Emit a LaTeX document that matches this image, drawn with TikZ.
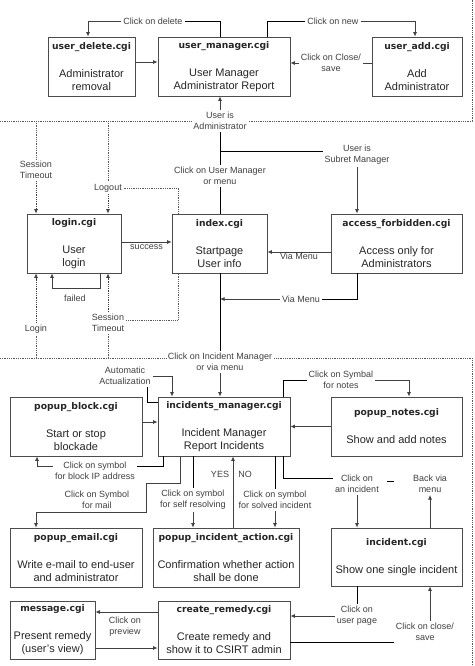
\documentclass[tikz,border=0pt]{standalone}
\usepackage{fontspec}
\setmainfont{Liberation Sans}
\newfontfamily\cgifont{DejaVu Sans}
\usetikzlibrary{positioning,arrows.meta}

\newcommand{\cgitext}[2]{{\cgifont\bfseries\fontsize{9.2}{11}\selectfont #1}\\[15pt]#2}

\begin{document}
\begin{tikzpicture}[
        x=1pt, y=-1pt,
        cgi/.style={
            draw=black!70, line width=0.8pt, align=center,
            inner sep=2pt, minimum height=59pt,
            font=\fontsize{11}{13}\selectfont, text=black!85
        },
        lab/.style={align=center, inner sep=2pt,
                    font=\fontsize{9}{11}\selectfont, text=black!75},
        ar/.style={-{Latex[length=4.5pt,width=4pt]}, line width=0.8pt, draw=black!75},
        dotline/.style={densely dotted, line width=0.8pt, draw=black!65}
    ]
    \fill[white] (0,0) rectangle (474,666);
    \useasboundingbox (0,0) rectangle (474,666);

    %% ---- user administration ----
    \node[cgi, minimum width=87pt]  (udel) at (91.5,66.5) {\cgitext{user\_delete.cgi}{Administrator\\removal}};
    \node[cgi, minimum width=132pt] (uman) at (224,66.5)  {\cgitext{user\_manager.cgi}{User Manager\\Administrator Report}};
    \node[cgi, minimum width=90pt]  (uadd) at (417,66.5)  {\cgitext{user\_add.cgi}{Add\\Administrator}};

    \node[lab] (lDel) at (153,21) {Click on delete};
    \node[lab] (lNew) at (333,21) {Click on new};
    \node[lab] (lAdm) at (220,121) {User is\\Administrator};

    \draw (uman.north -| lAdm) |- (lDel.east);
    \draw[ar] (lDel.west) -| ([xshift=-3.5pt]udel.north);
    \draw ([xshift=43pt]uman.north) |- (lNew.west);
    \draw[ar] (lNew.east) -| ([xshift=-2pt]uadd.north);
    \draw[ar] ([yshift=4.5pt]udel.east) -- ([yshift=4.5pt]uman.west);
    \draw[ar] ([yshift=3.5pt]uadd.west) -- node[lab, fill=white] (lSave) {Click on Close/\\save} ([yshift=3.5pt]uman.east);
    \draw[ar] (lAdm.north) -- (lAdm.north |- uman.south);

    %% ---- separators ----
    \coordinate (sepTop) at (0,121);
    \coordinate (sepBot) at (0,358);
    \draw[dotline] (sepTop) -- (sepTop -| lAdm.west);
    \draw[dotline] (sepTop -| lAdm.east) -- (472,121) -- (472,0);

    %% ---- login and start page ----
    \node[cgi, minimum width=94pt]  (login) at (74,243.5)    {\cgitext{login.cgi}{User\\login}};
    \node[cgi, minimum width=95pt]  (idx)   at (219.5,243.5) {\cgitext{index.cgi}{Startpage\\User info}};
    \node[cgi, minimum width=131pt] (afor)  at (396.5,243.5) {\cgitext{access\_forbidden.cgi}{Access only for\\Administrators}};

    \node[lab] (lUM)    at (220,176) {Click on User Manager\\or menu};
    \node[lab] (lSub)   at (357,155) {User is\\Subret Manager};
    \node[lab] (lST1)   at (36,170)  {Session\\Timeout};
    \node[lab] (lOut)   at (108,188) {Logout};
    \node[lab] (lFail)  at (75,298)  {failed};
    \node[lab] (lLogin) at (36,329)  {Login};
    \node[lab] (lST2)   at (108,323) {Session\\Timeout};
    \node[lab] (lVia2)  at (301,299) {Via Menu};
    \node[lab] (lIM)    at (220,362) {Click on Incident Manager\\or via menu};

    \coordinate (split) at (220,151);
    \draw (lAdm.south) -- (lUM.north);
    \draw (split) -- (split -| lSub.west);
    \draw[ar] (lSub.south) -- (lSub.south |- afor.north);
    \draw (lUM.south) -- (lUM.south |- idx.north);

    \draw[dotline] (lST1.north |- sepTop) -- (lST1.north);
    \draw[dotline, ar] (lST1.south) -- (lST1.south |- login.north);
    \draw[dotline] (lOut.north |- sepTop) -- (lOut.north);
    \draw[dotline, ar] (lOut.south) -- (lOut.south |- login.north);
    \draw[dotline] ([xshift=-41.5pt]idx.north) |- (lOut.east);

    \draw[ar] ([yshift=1.5pt]login.east) -- node[lab, below] (lSucc) {success} ([yshift=1.5pt]idx.west);
    \draw[ar] ([xshift=26pt]login.south) -- ++(0,15) -| ([xshift=-22pt]login.south);
    \draw[ar] ([yshift=-8.5pt]afor.west) -- node[lab, below=-1pt] (lVia1) {Via Menu} ([yshift=-8.5pt]idx.east);
    \draw (lSub.south |- afor.south) |- (lVia2.east);
    \draw[ar] (lVia2.west) -- (lVia2.west -| lUM);
    \draw (lIM.north |- idx.south) -- (lIM.north);

    \draw[dotline] (lLogin.south |- sepBot) -- (lLogin.south);
    \draw[dotline, ar] (lLogin.north) -- (lLogin.north |- login.south);
    \draw[dotline] (lST2.south |- sepBot) -- (lST2.south);
    \draw[dotline, ar] (lST2.north) -- (lST2.north |- login.south);
    \draw[dotline] ([yshift=3pt]lST2.east) -| ([xshift=-41.5pt]idx.south);

    \draw[dotline] (sepBot) -- (sepBot -| lIM.west);
    \draw[dotline] (sepBot -| lIM.east) -- (472,358) -- (472,666);

    %% ---- incident handling ----
    \node[cgi, minimum width=132pt] (pblk)  at (76,426.5)    {\cgitext{popup\_block.cgi}{Start or stop\\blockade}};
    \node[cgi, minimum width=132pt] (iman)  at (224,426.5)   {\cgitext{incidents\_manager.cgi}{Incident Manager\\Report Incidents}};
    \node[cgi, minimum width=131pt] (pnot)  at (396.5,426.5) {\cgitext{popup\_notes.cgi}{Show and add notes}};
    \node[cgi, minimum width=132pt] (pmail) at (76,557.5)    {\cgitext{popup\_email.cgi}{Write e-mail to end-user\\and administrator}};
    \node[cgi, minimum width=146pt] (pact)  at (226,557.5)   {\cgitext{popup\_incident\_action.cgi}{Confirmation whether action\\shall be done}};
    \node[cgi, minimum width=131pt, minimum height=58pt] (inc)  at (396.5,557) {\cgitext{incident.cgi}{Show one single incident}};
    \node[cgi, minimum width=85pt,  minimum height=58pt] (msg)  at (52.5,630)  {\cgitext{message.cgi}{Present remedy\\(user's view)}};
    \node[cgi, minimum width=132pt, minimum height=58pt] (crem) at (224,630)   {\cgitext{create\_remedy.cgi}{Create remedy and\\show it to CSIRT admin}};

    \node[lab] (lAuto)  at (125,376) {Automatic\\Actualization};
    \node[lab] (lNotes) at (341,380) {Click on Symbal\\for notes};
    \node[lab] (lBlk)   at (95,471)  {Click on symbol\\for block IP address};
    \node[lab] (lMail)  at (97,500)  {Click on Symbol\\for mail};
    \node[lab] (lSelf)  at (193,500) {Click on symbol\\for self resolving};
    \node[lab] (lYes)   at (220,474) {YES};
    \node[lab] (lNo)    at (245,474) {NO};
    \node[lab] (lSolv)  at (275,500) {Click on symbol\\for solved incident};
    \node[lab] (lInc)   at (357,484) {Click on\\an incident};
    \node[lab] (lBack)  at (430,484) {Back via\\menu};
    \node[lab] (lPrev)  at (125,627) {Click on\\preview};
    \node[lab] (lUser)  at (357,616) {Click on\\user page};
    \node[lab] (lClose) at (425,632) {Click on close/\\save};

    \draw[ar] (lIM.south) -- (lIM.south |- iman.north);
    \draw[ar] ([yshift=4.5pt]pblk.east) -- ([yshift=4.5pt]iman.west);
    \draw[ar] (pnot.west) -- (iman.east);
    \draw ([yshift=-6pt]iman.north west) -| ([xshift=22pt]lAuto.south);
    \draw[ar] (lAuto.east) -| ([xshift=-52pt]iman.north);
    \draw ([xshift=59pt]iman.north) |- (lNotes.west);
    \draw[ar] (lNotes.east) -| ([xshift=12.5pt]pnot.north);

    \draw ([xshift=-61pt]iman.south) |- ([yshift=5pt]lBlk.east);
    \draw[ar] ([yshift=5pt]lBlk.west) -| ([xshift=-39pt]pblk.south);
    \draw[ar] ([xshift=-44pt]iman.south) -- ++(0,27) -- ++(-34,0) -- ++(0,29) -| ([xshift=-40pt]pmail.north);
    \draw (lSelf.north |- iman.south) -- (lSelf.north);
    \draw[ar] (lSelf.south) -- (lSelf.south |- pact.north);
    \draw[ar] ([xshift=7pt]pact.north) -- ([xshift=7pt]pact.north |- iman.south);
    \draw (lSolv.north |- iman.south) -- (lSolv.north);
    \draw[ar] (lSolv.south) -- (lSolv.south |- pact.north);
    \draw ([xshift=59pt]iman.south) |- ([yshift=6pt]lInc.west);
    \draw[ar] (lInc.south) -- (lInc.south |- inc.north);
    \draw[shorten <=6pt, shorten >=17pt] ([yshift=3pt]lInc.east) -- ([yshift=3pt]lBack.west);
    \draw[ar] (lBack.south |- inc.north) -- (lBack.south);

    %% ---- remedy ----
    \draw[ar] ([yshift=18pt]crem.west) -- ([yshift=18pt]msg.east);
    \draw[ar] ([yshift=-18pt]msg.east) -- ([yshift=-18pt]crem.west);
    \draw (inc.south -| lUser) -- (lUser.north);
    \draw[ar] (lUser.west) -- (lUser.west -| crem.east);
    \draw[ar] ([xshift=5pt]lClose.north) -- ([xshift=5pt]lClose.north |- inc.south);
    \draw ([yshift=-12pt]crem.east) -- ([yshift=-10pt]lClose.west);
\end{tikzpicture}
\end{document}
